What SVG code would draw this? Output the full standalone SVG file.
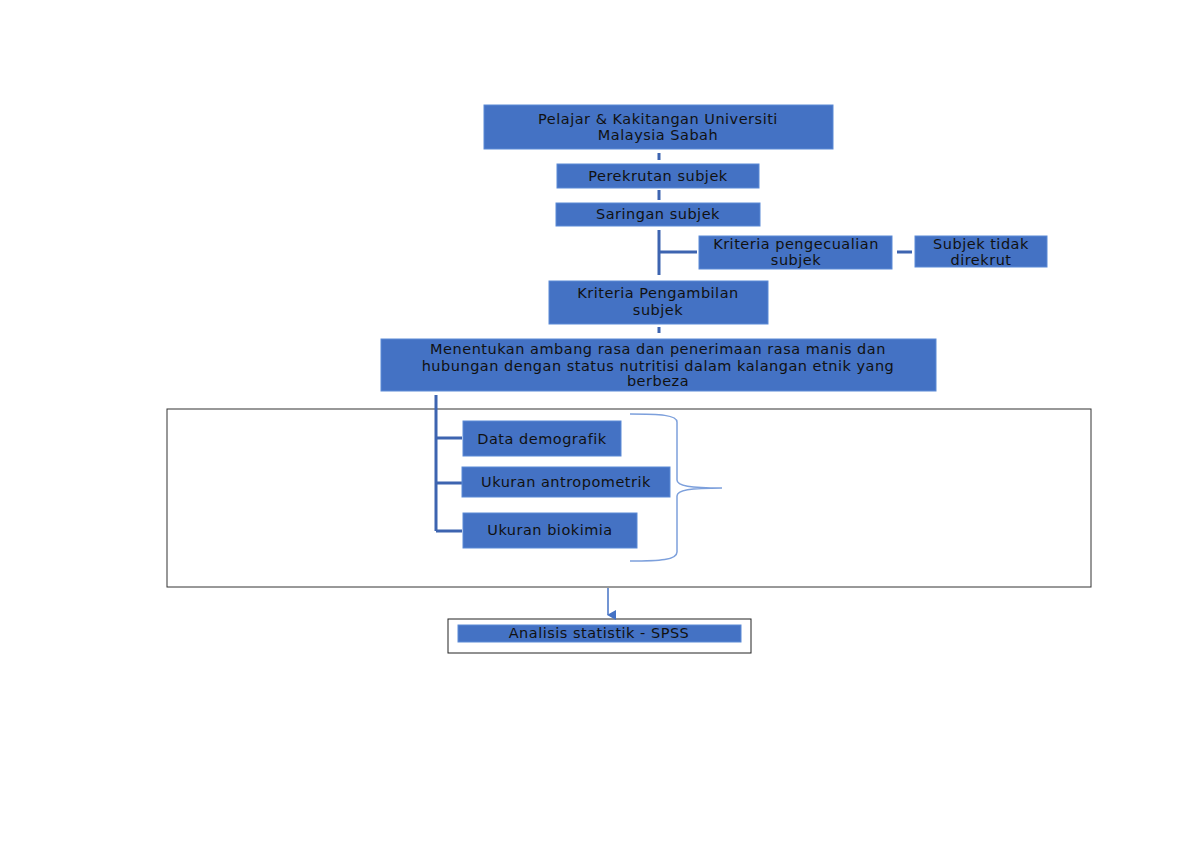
<svg xmlns="http://www.w3.org/2000/svg" width="1200" height="849" viewBox="0 0 1200 849">
<style>
.b{fill:#4472c4;stroke:#5b8ad6;stroke-width:1}
.t{font-family:"DejaVu Sans",sans-serif;font-size:14.5px;fill:#111;text-anchor:middle;letter-spacing:0.5px}
.c{stroke:#3d64b0;stroke-width:3;fill:none}
</style>
<defs><marker id="a" markerWidth="10" markerHeight="10" refX="5" refY="8" orient="auto" markerUnits="userSpaceOnUse"><path d="M0,0 L10,0 L5,9 Z" fill="#4472c4"/></marker></defs>
<rect x="0" y="0" width="1200" height="849" fill="#fff"/>
<rect x="167" y="409" width="924" height="178" fill="none" stroke="#333" stroke-width="1"/>
<rect x="448" y="619" width="303" height="34" fill="none" stroke="#222" stroke-width="1"/>
<g id="connectors">
<path class="c" d="M659,153 V160 M659,190 V200 M659,230 V275 M659,252 H697 M897,252 H912 M659,327 V333 M436,395 V531 M436,438 H462 M436,483 H462 M436,531 H462"/>
<path d="M630,414 C660,414 677,415 677,422 V480 C677,486 690,488 722,488 C690,488 677,490 677,496 V552 C677,560 660,561 630,561" fill="none" stroke="#7da0dc" stroke-width="1.5"/>
<path d="M608,588 V615" stroke="#4472c4" stroke-width="1.5" marker-end="url(#a)"/>
</g>
<g id="n1"><rect class="b" x="484" y="105" width="349" height="44"/><text class="t" x="658" y="124">Pelajar &amp; Kakitangan Universiti</text><text class="t" x="658" y="140">Malaysia Sabah</text></g>
<g id="n2"><rect class="b" x="557" y="164" width="202" height="24"/><text class="t" x="658" y="181">Perekrutan subjek</text></g>
<g id="n3"><rect class="b" x="556" y="203" width="204" height="23"/><text class="t" x="658" y="219">Saringan subjek</text></g>
<g id="n4"><rect class="b" x="699" y="236" width="193" height="33"/><text class="t" x="796" y="249">Kriteria pengecualian</text><text class="t" x="796" y="265">subjek</text></g>
<g id="n5"><rect class="b" x="915" y="236" width="132" height="31"/><text class="t" x="981" y="249">Subjek tidak</text><text class="t" x="981" y="265">direkrut</text></g>
<g id="n6"><rect class="b" x="549" y="281" width="219" height="43"/><text class="t" x="658" y="298">Kriteria Pengambilan</text><text class="t" x="658" y="315">subjek</text></g>
<g id="n7"><rect class="b" x="381" y="339" width="555" height="52"/><text class="t" x="658" y="354">Menentukan ambang rasa dan penerimaan rasa manis dan</text><text class="t" x="658" y="371">hubungan dengan status nutritisi dalam kalangan etnik yang</text><text class="t" x="658" y="386">berbeza</text></g>
<g id="n8"><rect class="b" x="463" y="421" width="158" height="35"/><text class="t" x="542" y="444">Data demografik</text></g>
<g id="n9"><rect class="b" x="462" y="467" width="208" height="30"/><text class="t" x="566" y="487">Ukuran antropometrik</text></g>
<g id="n10"><rect class="b" x="463" y="513" width="174" height="35"/><text class="t" x="550" y="535">Ukuran biokimia</text></g>
<g id="n11"><rect class="b" x="458" y="625" width="283" height="17"/><text class="t" x="599" y="638">Analisis statistik - SPSS</text></g>
</svg>
